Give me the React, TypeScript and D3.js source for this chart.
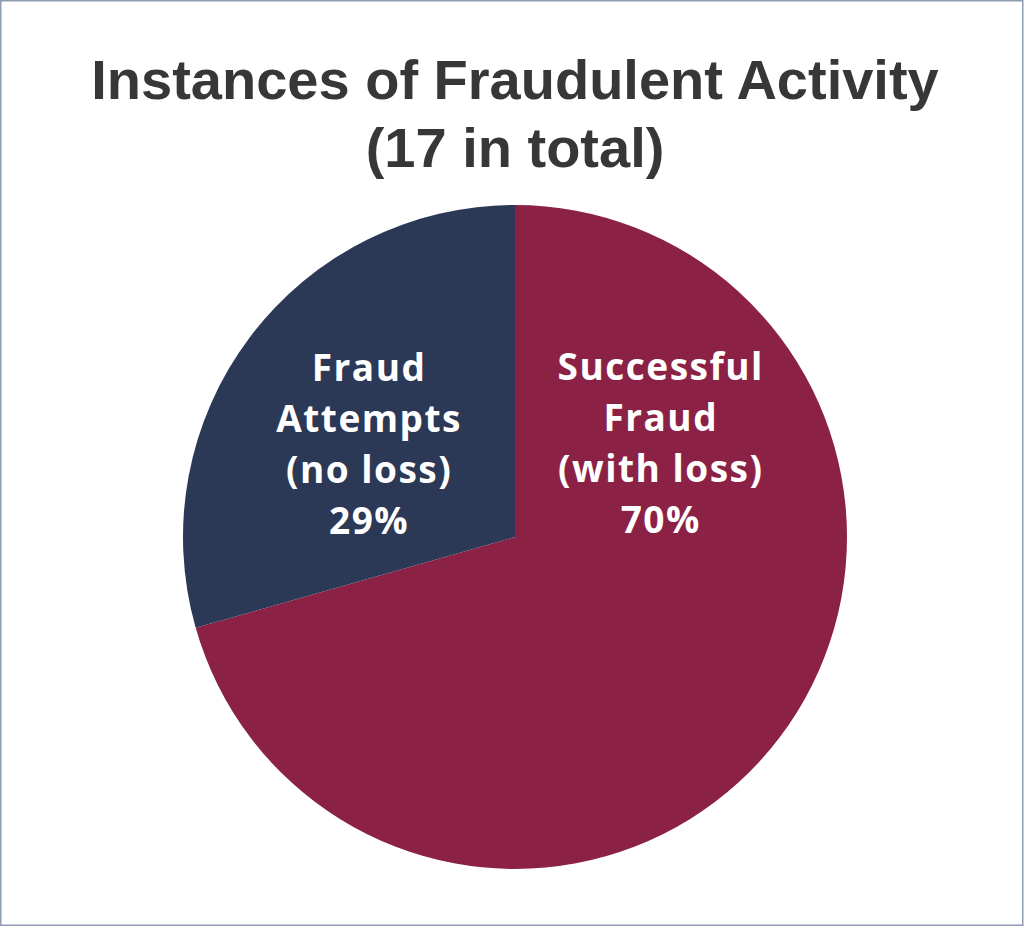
import React from "react";
import * as d3 from "d3";

const categories = ["Successful Fraud (with loss)", "Fraud Attempts (no loss)"];
const counts = [12, 5];
const percentLabels = ["70%", "29%"];
const labelLines = [
  ["Successful", "Fraud", "(with loss)"],
  ["Fraud", "Attempts", "(no loss)"],
];
const colors = ["#8b2246", "#2b3856"];
// label anchor angles (degrees clockwise from 12 o'clock), Excel "best fit"
const labelAngles = [57.4, 302.5];
const titleLines = ["Instances of Fraudulent Activity", "(17 in total)"];

const W = 1024;
const H = 927;

export default function App() {
  const cx = 515;
  const cy = 537;
  const R = 332;
  const labelR = 173;
  const data = categories.map((c, i) => ({ c, v: counts[i], i }));
  const pie = d3.pie<any>().sort(null).value((d) => d.v).startAngle(0).endAngle(2 * Math.PI);
  const arcs = pie(data);
  const arc = d3.arc<any>().innerRadius(0).outerRadius(R);
  const lineH = 51;
  const fs = 37;

  return (
    <svg width={W} height={H} style={{ position: "absolute", left: 0, top: 0 }}>
      <rect x={0} y={0} width={W} height={H} fill="#fff" />
      <rect x={0.75} y={0.75} width={1022} height={924.5} fill="none" stroke="#8f9bb0" strokeWidth={1.5} />
      {titleLines.map((t, i) => (
        <text
          key={i}
          x={515}
          y={99 + i * 68}
          textAnchor="middle"
          fontFamily="'Liberation Sans', Arial, sans-serif"
          fontWeight="bold"
          fontSize={56}
          fill="#353835"
        >
          {t}
        </text>
      ))}
      <g transform={`translate(${cx},${cy})`}>
        {arcs.map((a, i) => (
          <path key={i} d={arc(a) as string} fill={colors[a.data.i]} />
        ))}
        {arcs.map((a, i) => {
          const ang = (labelAngles[a.data.i] * Math.PI) / 180;
          const lx = labelR * Math.sin(ang);
          const ly = -labelR * Math.cos(ang);
          const lines = [...labelLines[a.data.i], percentLabels[a.data.i]];
          return (
            <text
              key={"l" + i}
              textAnchor="middle"
              fontFamily="'Open Sans', Lato, sans-serif"
              fontWeight="bold"
              fontSize={fs}
              letterSpacing={1.5}
              fill="#fff"
            >
              {lines.map((ln, j) => (
                <tspan key={j} x={lx} y={ly + (j - 1.5) * lineH + 13}>
                  {ln}
                </tspan>
              ))}
            </text>
          );
        })}
      </g>
    </svg>
  );
}
